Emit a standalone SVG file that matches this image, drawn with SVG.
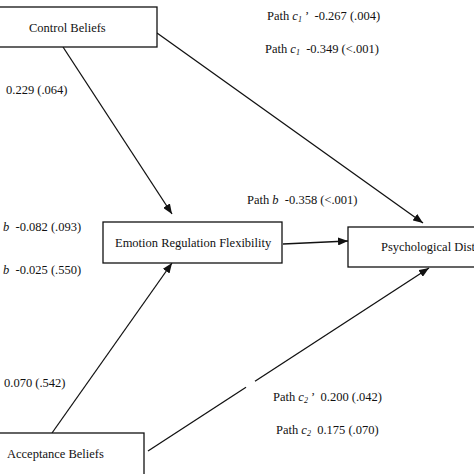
<svg xmlns="http://www.w3.org/2000/svg" width="474" height="474" viewBox="0 0 474 474">
<defs>
<style>
text{font-family:"Liberation Serif","Times New Roman",serif;font-size:12.5px;fill:#111;white-space:pre}
.box{fill:#fff;stroke:#111;stroke-width:1.3}
.con{stroke:#111;stroke-width:1.3;fill:none}
.i{font-style:italic}
.s{font-style:italic;font-size:8px}
</style>
<marker id="ah" markerUnits="userSpaceOnUse" markerWidth="10" markerHeight="8" viewBox="0 0 10 8" refX="10" refY="4" orient="auto">
<path d="M0,0 L10,4 L0,8 Z" fill="#111"/>
</marker>
</defs>
<rect width="474" height="474" fill="#fff"/>
<g id="connectors">
<line class="con" x1="63" y1="47" x2="172" y2="214" marker-end="url(#ah)"/>
<line class="con" x1="157" y1="33" x2="423" y2="223" marker-end="url(#ah)"/>
<line class="con" x1="283" y1="244" x2="348" y2="241" marker-end="url(#ah)"/>
<line class="con" x1="52" y1="433" x2="172" y2="263" marker-end="url(#ah)"/>
<line class="con" x1="148" y1="451" x2="246" y2="387.2"/>
<line class="con" x1="255" y1="381.3" x2="429" y2="268" marker-end="url(#ah)"/>
</g>
<g id="control-beliefs">
<rect class="box" x="-2" y="7" width="159" height="40"/>
<text x="29" y="32">Control Beliefs</text>
</g>
<g id="emotion-regulation-flexibility">
<rect class="box" x="103" y="222" width="179" height="41"/>
<text x="115" y="247">Emotion Regulation Flexibility</text>
</g>
<g id="psychological-distress">
<rect class="box" x="348" y="227" width="140" height="40"/>
<text x="381" y="251">Psychological Distress</text>
</g>
<g id="acceptance-beliefs">
<rect class="box" x="-2" y="433" width="146" height="50"/>
<text x="7" y="458">Acceptance Beliefs</text>
</g>
<g id="labels">
<text x="267" y="20">Path <tspan class="i">c</tspan><tspan class="s" dy="2">1</tspan><tspan dy="-2"> ’  -0.267 (.004)</tspan></text>
<text x="265" y="53">Path <tspan class="i">c</tspan><tspan class="s" dy="2">1</tspan><tspan dy="-2">  -0.349 (&lt;.001)</tspan></text>
<text x="6" y="94">0.229 (.064)</text>
<text x="3" y="231"><tspan class="i">b</tspan>  -0.082 (.093)</text>
<text x="3" y="274"><tspan class="i">b</tspan>  -0.025 (.550)</text>
<text x="247" y="204">Path <tspan class="i">b</tspan>  -0.358 (&lt;.001)</text>
<text x="4" y="387">0.070 (.542)</text>
<text x="273" y="401">Path <tspan class="i">c</tspan><tspan class="s" dy="2">2</tspan><tspan dy="-2"> ’  0.200 (.042)</tspan></text>
<text x="276" y="434">Path <tspan class="i">c</tspan><tspan class="s" dy="2">2</tspan><tspan dy="-2">  0.175 (.070)</tspan></text>
</g>
</svg>
